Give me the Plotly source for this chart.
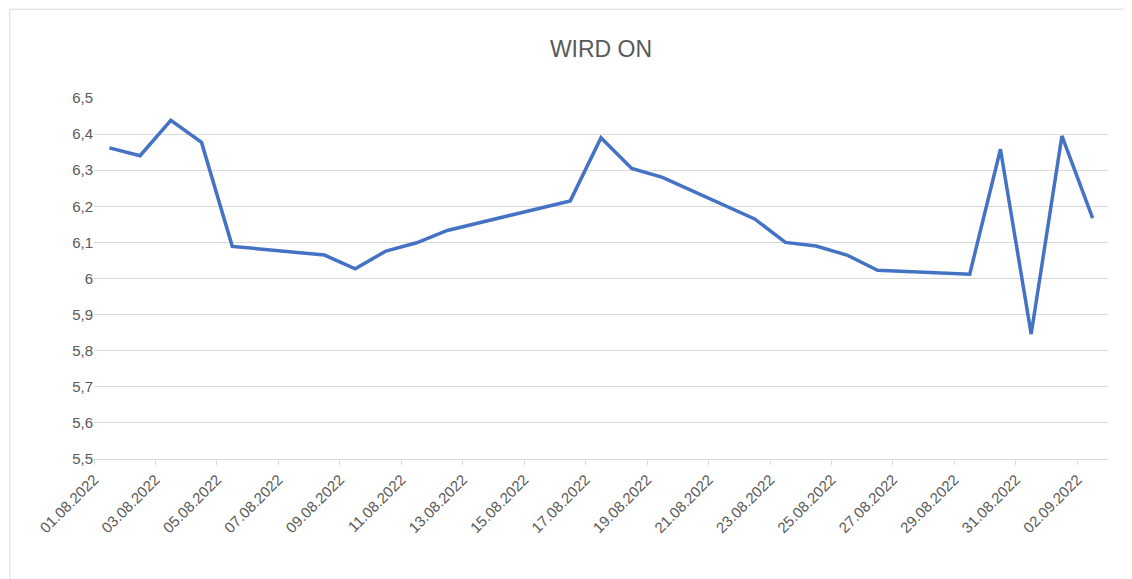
import plotly.graph_objects as go
import pandas as pd

dates = ["2022-08-01","2022-08-02","2022-08-03","2022-08-04","2022-08-05",
         "2022-08-08","2022-08-09","2022-08-10","2022-08-11","2022-08-12",
         "2022-08-16","2022-08-17","2022-08-18","2022-08-19",
         "2022-08-22","2022-08-23","2022-08-24","2022-08-25","2022-08-26",
         "2022-08-29","2022-08-30","2022-08-31","2022-09-01","2022-09-02"]
values = [6.362,6.340,6.438,6.377,6.089,
          6.065,6.027,6.076,6.099,6.133,
          6.215,6.390,6.305,6.280,
          6.165,6.100,6.090,6.065,6.023,
          6.012,6.358,5.846,6.395,6.167]
y_ticks = [5.5,5.6,5.7,5.8,5.9,6.0,6.1,6.2,6.3,6.4,6.5]
y_labels = ["5,5","5,6","5,7","5,8","5,9","6","6,1","6,2","6,3","6,4","6,5"]

x = pd.to_datetime(dates) + pd.Timedelta(hours=12)

fig = go.Figure(go.Scatter(x=x, y=values, mode="lines",
                           line=dict(color="#4472C4", width=3.5)))
fig.update_layout(
    width=1132, height=579, paper_bgcolor="white", plot_bgcolor="white",
    margin=dict(l=86, r=32, t=90, b=128, autoexpand=False),
    title=dict(text="WIRD ON", x=0.5, xref="paper", y=0.93, yanchor="middle", xanchor="center",
               font=dict(family="Liberation Sans, Arial", size=23, color="#595959")),
    showlegend=False,
    font=dict(family="Liberation Sans, Arial", size=15, color="#595959"),
    shapes=[dict(type="rect", xref="paper", yref="paper", x0=-0.083, x1=1.028,
                 y0=-0.352, y1=1.246, line=dict(color="#d9d9d9", width=1))],
)
fig.update_xaxes(type="date", range=["2022-08-01", "2022-09-03"], automargin=False,
                 tick0="2022-08-01", dtick=2*86400000, tickformat="%d.%m.%Y",
                 tickangle=-45, showgrid=False, showline=True, linecolor="#d9d9d9",
                 ticks="outside", tickcolor="#d9d9d9", ticklen=5)
fig.update_yaxes(range=[5.5, 6.5], tickvals=y_ticks, ticktext=y_labels, automargin=False,
                 showgrid=True, gridcolor="#d9d9d9", zeroline=False, showline=False,
                 ticksuffix="  ")
fig.write_html("out.html")
